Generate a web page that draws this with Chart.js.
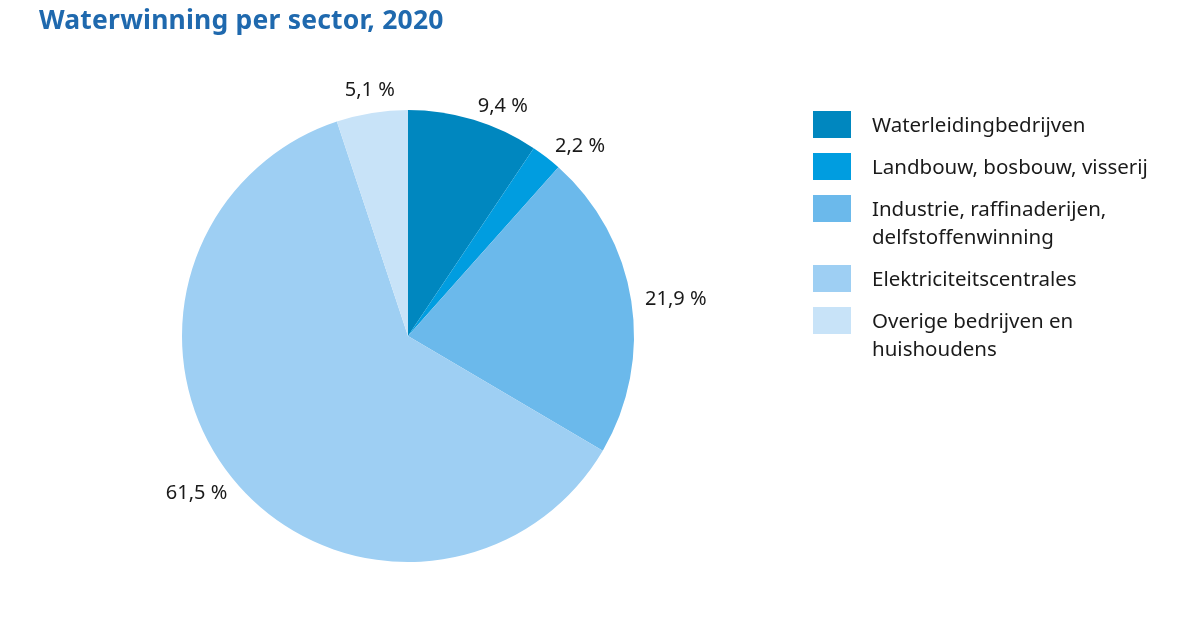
<!DOCTYPE html>
<html>
<head>
  <title>Waterwinning per sector, 2020</title>
  <script src="https://cdn.jsdelivr.net/npm/chart.js"></script>
  <style>
    body { margin: 0; background: #fff; font-family: "Noto Sans", sans-serif; }
    #wrap { position: relative; width: 1200px; height: 630px; }
    #title { position: absolute; left: 39px; top: 1px; font-size: 26.5px; font-weight: bold; color: #1f69ae; letter-spacing: 0.2px; }
    #legend { position: absolute; left: 813px; top: 111px; list-style: none; margin: 0; padding: 0; }
    #legend li { display: flex; align-items: flex-start; margin-bottom: 15px; }
    #legend .box { width: 38px; height: 27px; flex: none; margin-right: 21px; }
    #legend .txt { font-size: 20.5px; line-height: 28px; color: #1a1a1a; margin-top: -1px; }
  </style>
</head>
<body>
  <div id="wrap">
    <canvas id="chartCanvas" width="1200" height="630"></canvas>
    <div id="title">Waterwinning per sector, 2020</div>
    <ul id="legend"></ul>
  </div>

<script>
  // sectors (legend text, line breaks as in the picture)
  const sectors = [
    ["Waterleidingbedrijven"],
    ["Landbouw, bosbouw, visserij"],
    ["Industrie, raffinaderijen,", "delfstoffenwinning"],
    ["Elektriciteitscentrales"],
    ["Overige bedrijven en", "huishoudens"]
  ];
  const shares = [9.4, 2.2, 21.9, 61.5, 5.1];
  const colors = ["#0087bf", "#009de0", "#6bb9eb", "#9ecff3", "#c8e3f8"];

  // legend as html
  const legendEl = document.getElementById("legend");
  sectors.forEach((lines, i) => {
    const li = document.createElement("li");
    li.innerHTML = `<span class="box" style="background:${colors[i]}"></span><span class="txt">${lines.join("<br>")}</span>`;
    legendEl.appendChild(li);
  });

  // percentage labels just outside each slice
  const outsideLabels = {
    id: "outsideLabels",
    afterDatasetsDraw(chart) {
      const ctx = chart.ctx;
      const meta = chart.getDatasetMeta(0);
      ctx.save();
      ctx.font = '20px "Noto Sans", sans-serif';
      ctx.fillStyle = "#1a1a1a";
      ctx.textBaseline = "middle";
      meta.data.forEach((arc, i) => {
        const mid = (arc.startAngle + arc.endAngle) / 2;
        const r = arc.outerRadius + 14;
        let x = arc.x + Math.cos(mid) * r;
        let y = arc.y + Math.sin(mid) * r;
        const dx = Math.cos(mid);
        if (Math.abs(dx) < 0.25) {
          ctx.textAlign = dx < 0 ? "center" : "left";
          if (dx < 0) y -= 9;
        } else {
          ctx.textAlign = dx > 0 ? "left" : "right";
          if (dx < 0) { x += 6; y += 6; }
        }
        const label = shares[i].toFixed(1).replace(".", ",") + " %";
        ctx.fillText(label, x, y);
      });
      ctx.restore();
    }
  };

  const ctx = document.getElementById("chartCanvas").getContext("2d");
  new Chart(ctx, {
    type: "pie",
    data: {
      labels: sectors.map(s => s.join(" ")),
      datasets: [{
        data: shares,
        backgroundColor: colors,
        borderWidth: 0
      }]
    },
    options: {
      responsive: false,
      animation: false,
      layout: { padding: { left: 182, right: 566, top: 110, bottom: 68 } },
      plugins: {
        legend: { display: false },
        tooltip: { enabled: false }
      }
    },
    plugins: [outsideLabels]
  });
</script>
</body>
</html>
